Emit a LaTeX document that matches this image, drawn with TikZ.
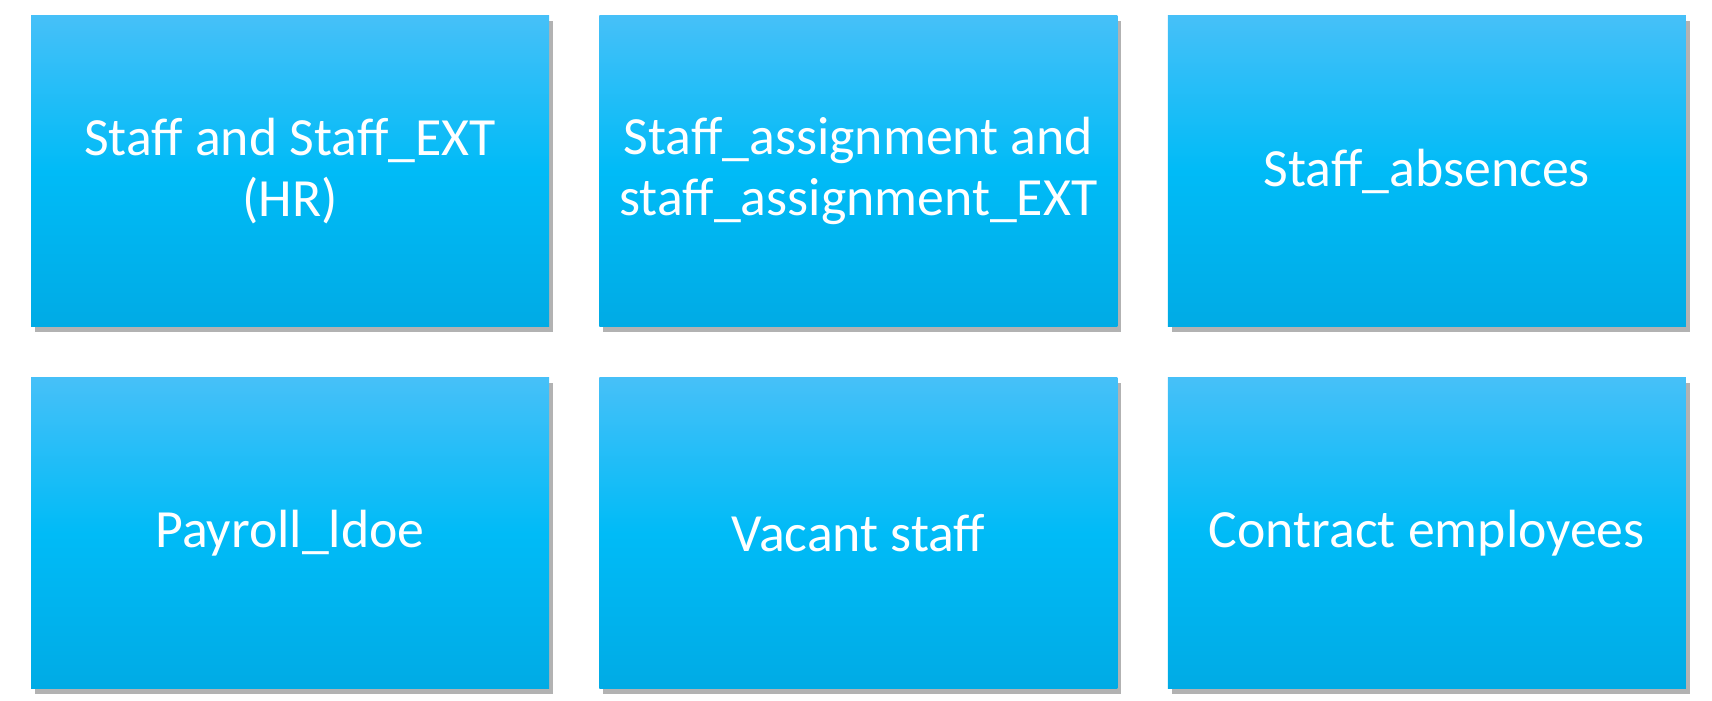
\documentclass[tikz,border=0pt]{standalone}
\usepackage{fontspec}
\setmainfont{Carlito}
\usetikzlibrary{positioning,shadows}
\definecolor{skytop}{RGB}{70,192,248}
\definecolor{skymid}{RGB}{0,187,247}
\definecolor{skybot}{RGB}{0,171,229}
\tikzset{
  tbl/.style={rectangle, minimum width=5.18cm, minimum height=3.11cm, inner sep=0pt,
    top color=skytop, bottom color=skybot, middle color=skymid,
    drop shadow={shadow xshift=.04cm, shadow yshift=-.05cm, fill=black, opacity=.3},
    text=white, align=center, font=\fontsize{15.3}{17.5}\selectfont},
}
\begin{document}
\begin{tikzpicture}[node distance=.50cm and .49cm]
\useasboundingbox (0,0) rectangle (17.12,-7);
% top row
\node[tbl] (staff) at (2.90,-1.71) {Staff and Staff\_EXT\\(HR)};
\node[tbl,right=of staff] (assign) {Staff\_assignment and\\staff\_assignment\_EXT};
\node[tbl,right=of assign] (absence) {Staff\_absences};
% bottom row
\node[tbl,below=of staff] (payroll) {Payroll\_ldoe};
\node[tbl,right=of payroll] (vacant) {Vacant staff};
\node[tbl,right=of vacant] (contract) {Contract employees};
\end{tikzpicture}
\end{document}
